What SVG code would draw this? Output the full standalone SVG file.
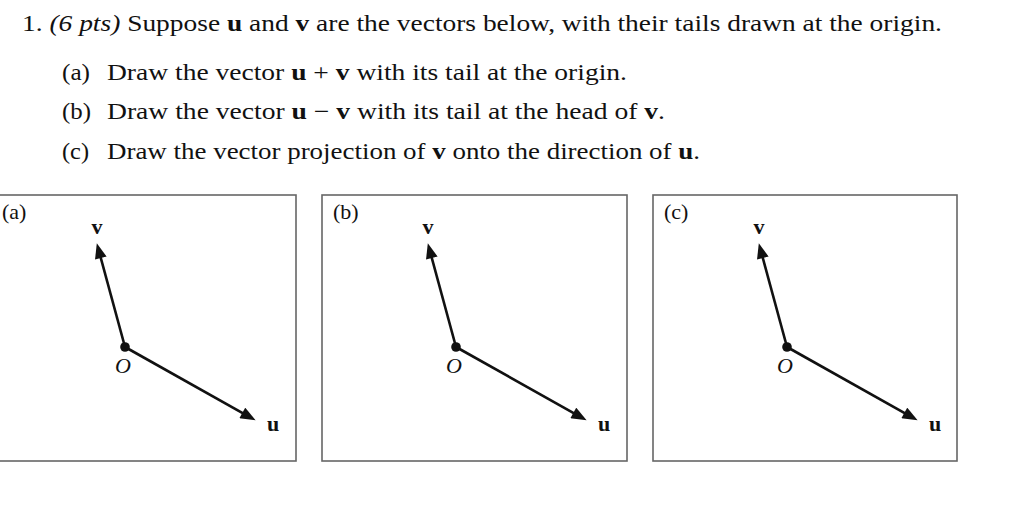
<svg xmlns="http://www.w3.org/2000/svg" width="1015" height="522" viewBox="0 0 1015 522">
<style>
text{font-family:"Liberation Serif","Times New Roman",serif;fill:#111}
.q{font-size:23px}
.lab{font-size:22px}
.b{font-weight:bold}
.i{font-style:italic}
.box{fill:none;stroke:#666;stroke-width:1.6}
.vec{stroke:#111;stroke-width:2.6;fill:none}
</style>
<defs>
<marker id="ah" markerUnits="userSpaceOnUse" markerWidth="16" markerHeight="12" refX="6" refY="5.5" orient="auto" viewBox="0 0 14 11">
<path d="M0,0 L14,5.5 L0,11 Z" fill="#111"/>
</marker>
</defs>
<rect width="1015" height="522" fill="#fff"/>
<g id="question">
<text class="q" x="22" y="31" textLength="920" lengthAdjust="spacingAndGlyphs">1.  <tspan class="i">(6 pts)</tspan> Suppose <tspan class="b">u</tspan> and <tspan class="b">v</tspan> are the vectors below, with their tails drawn at the origin.</text>
<text class="q" x="62" y="80" textLength="28" lengthAdjust="spacingAndGlyphs">(a)</text>
<text class="q" x="107" y="80" textLength="520" lengthAdjust="spacingAndGlyphs">Draw the vector <tspan class="b">u</tspan> + <tspan class="b">v</tspan> with its tail at the origin.</text>
<text class="q" x="62" y="119" textLength="29" lengthAdjust="spacingAndGlyphs">(b)</text>
<text class="q" x="107" y="119" textLength="558" lengthAdjust="spacingAndGlyphs">Draw the vector <tspan class="b">u</tspan> − <tspan class="b">v</tspan> with its tail at the head of <tspan class="b">v</tspan>.</text>
<text class="q" x="62" y="159" textLength="27" lengthAdjust="spacingAndGlyphs">(c)</text>
<text class="q" x="107" y="159" textLength="593" lengthAdjust="spacingAndGlyphs">Draw the vector projection of <tspan class="b">v</tspan> onto the direction of <tspan class="b">u</tspan>.</text>
</g>
<g id="panel-a">
<rect class="box" x="-9" y="195" width="305" height="266"/>
<text class="lab" x="2" y="219">(a)</text>
<text class="lab b" x="97" y="234" text-anchor="middle">v</text>
<text class="lab b" x="273" y="431" text-anchor="middle">u</text>
<text class="lab i" x="123" y="373" text-anchor="middle">O</text>
<circle cx="125" cy="347" r="4.8" fill="#111"/>
</g>
<g id="panel-b" transform="translate(331,0)">
<rect class="box" x="-9" y="195" width="305" height="266"/>
<text class="lab" x="2" y="219">(b)</text>
<text class="lab b" x="97" y="234" text-anchor="middle">v</text>
<text class="lab b" x="273" y="431" text-anchor="middle">u</text>
<text class="lab i" x="123" y="373" text-anchor="middle">O</text>
<circle cx="125" cy="347" r="4.8" fill="#111"/>
</g>
<g id="panel-c" transform="translate(662,0)">
<rect class="box" x="-9" y="195" width="304" height="266"/>
<text class="lab" x="2" y="219">(c)</text>
<text class="lab b" x="97" y="234" text-anchor="middle">v</text>
<text class="lab b" x="273" y="431" text-anchor="middle">u</text>
<text class="lab i" x="123" y="373" text-anchor="middle">O</text>
<circle cx="125" cy="347" r="4.8" fill="#111"/>
</g>
<g id="connectors">
<path class="vec" d="M125,347 L248,416.1" marker-end="url(#ah)"/>
<path class="vec" d="M125,347 L99.1,251.7" marker-end="url(#ah)"/>
<path class="vec" d="M456,347 L579,416.1" marker-end="url(#ah)"/>
<path class="vec" d="M456,347 L430.1,251.7" marker-end="url(#ah)"/>
<path class="vec" d="M787,347 L910,416.1" marker-end="url(#ah)"/>
<path class="vec" d="M787,347 L761.1,251.7" marker-end="url(#ah)"/>
</g>
</svg>
